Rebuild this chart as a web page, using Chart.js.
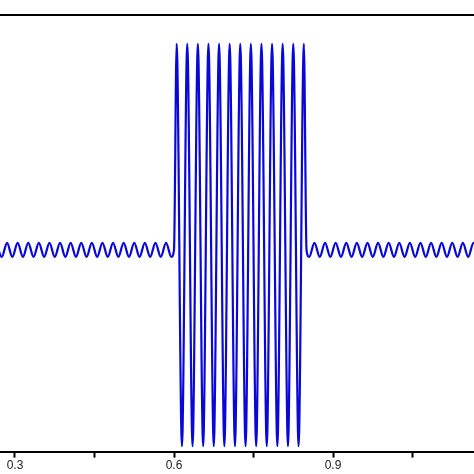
<!DOCTYPE html>
<html>
<head>
<meta charset="utf-8">
<script src="https://cdn.jsdelivr.net/npm/chart.js@4.4.1/dist/chart.umd.min.js"></script>
<style>
  html, body { margin: 0; padding: 0; background: #fff; }
  #box { width: 474px; height: 474px; }
</style>
</head>
<body>
<div id="box"><canvas id="waveCanvas"></canvas></div>
<script>
// peaks, troughs and the two zero crossings of the signal
const sampleTimes = [
    0.265, 0.275, 0.285, 0.295, 0.305, 0.315, 0.325, 0.335, 0.345, 0.355,
    0.365, 0.375, 0.385, 0.395, 0.405, 0.415, 0.425, 0.435, 0.445, 0.455,
    0.465, 0.475, 0.485, 0.495, 0.505, 0.515, 0.525, 0.535, 0.545, 0.555,
    0.565, 0.575, 0.585, 0.595,
    0.600,
    0.605, 0.615, 0.625, 0.635, 0.645, 0.655, 0.665, 0.675, 0.685, 0.695,
    0.705, 0.715, 0.725, 0.735, 0.745, 0.755, 0.765, 0.775, 0.785, 0.795,
    0.805, 0.815, 0.825, 0.835, 0.845,
    0.850,
    0.855, 0.865, 0.875, 0.885, 0.895, 0.905, 0.915, 0.925, 0.935, 0.945,
    0.955, 0.965, 0.975, 0.985, 0.995, 1.005, 1.015, 1.025, 1.035, 1.045,
    1.055, 1.065, 1.075, 1.085, 1.095, 1.105, 1.115, 1.125, 1.135, 1.145,
    1.155, 1.165, 1.175
];

const sampleValues = [
    0.035, -0.035, 0.035, -0.035, 0.035, -0.035, 0.035, -0.035, 0.035, -0.035,
    0.035, -0.035, 0.035, -0.035, 0.035, -0.035, 0.035, -0.035, 0.035, -0.035,
    0.035, -0.035, 0.035, -0.035, 0.035, -0.035, 0.035, -0.035, 0.035, -0.035,
    0.035, -0.035, 0.035, -0.035,
    0,
    1.026, -0.978, 1.026, -0.978, 1.026, -0.978, 1.026, -0.978, 1.026, -0.978,
    1.026, -0.978, 1.026, -0.978, 1.026, -0.978, 1.026, -0.978, 1.026, -0.978,
    1.026, -0.978, 1.026, -0.978, 1.026,
    0,
    -0.035, 0.035, -0.035, 0.035, -0.035, 0.035, -0.035, 0.035, -0.035, 0.035,
    -0.035, 0.035, -0.035, 0.035, -0.035, 0.035, -0.035, 0.035, -0.035, 0.035,
    -0.035, 0.035, -0.035, 0.035, -0.035, 0.035, -0.035, 0.035, -0.035, 0.035,
    -0.035, 0.035, -0.035
];

const tickValues = [0.3, 0.45, 0.6, 0.75, 0.9, 1.05];
const tickLabels = ["0.3", "", "0.6", "", "0.9", ""];

// frame line along the top of the plot area
const topFrame = {
    id: 'topFrame',
    afterDraw(chart) {
        const ctx = chart.ctx;
        const area = chart.chartArea;
        ctx.save();
        ctx.strokeStyle = '#000';
        ctx.lineWidth = 2;
        ctx.beginPath();
        ctx.moveTo(0, area.top);
        ctx.lineTo(chart.width, area.top);
        ctx.stroke();
        ctx.restore();
    }
};

const waveCanvas = document.getElementById('waveCanvas');

const waveChart = new Chart(waveCanvas, {
    type: "line",
    data: {
        datasets: [{
            data: sampleTimes.map((t, i) => ({ x: t, y: sampleValues[i] })),
            borderColor: "#0808d8",
            borderWidth: 2.2,
            pointRadius: 0,
            cubicInterpolationMode: "monotone",
            fill: false
        }]
    },
    options: {
        responsive: true,
        maintainAspectRatio: false,
        animation: false,
        layout: { padding: { top: 15, left: 0, right: 0, bottom: 0 } },
        plugins: {
            legend: { display: false },
            tooltip: { enabled: false }
        },
        scales: {
            x: {
                type: "linear",
                min: 0.2717,
                max: 1.166,
                afterBuildTicks: (scale) => {
                    scale.ticks = tickValues.map(v => ({ value: v }));
                },
                ticks: {
                    autoSkip: false,
                    maxRotation: 0,
                    padding: 1,
                    color: "#222",
                    font: { family: "'Liberation Sans', Arial, sans-serif", size: 12 },
                    callback: (value, index) => tickLabels[index]
                },
                grid: {
                    drawOnChartArea: false,
                    drawTicks: true,
                    tickLength: 6,
                    tickWidth: 2,
                    tickColor: "#000"
                },
                border: { display: true, color: "#000", width: 2 }
            },
            y: {
                display: false,
                min: -1.005,
                max: 1.17
            }
        }
    },
    plugins: [topFrame]
});
</script>
</body>
</html>
